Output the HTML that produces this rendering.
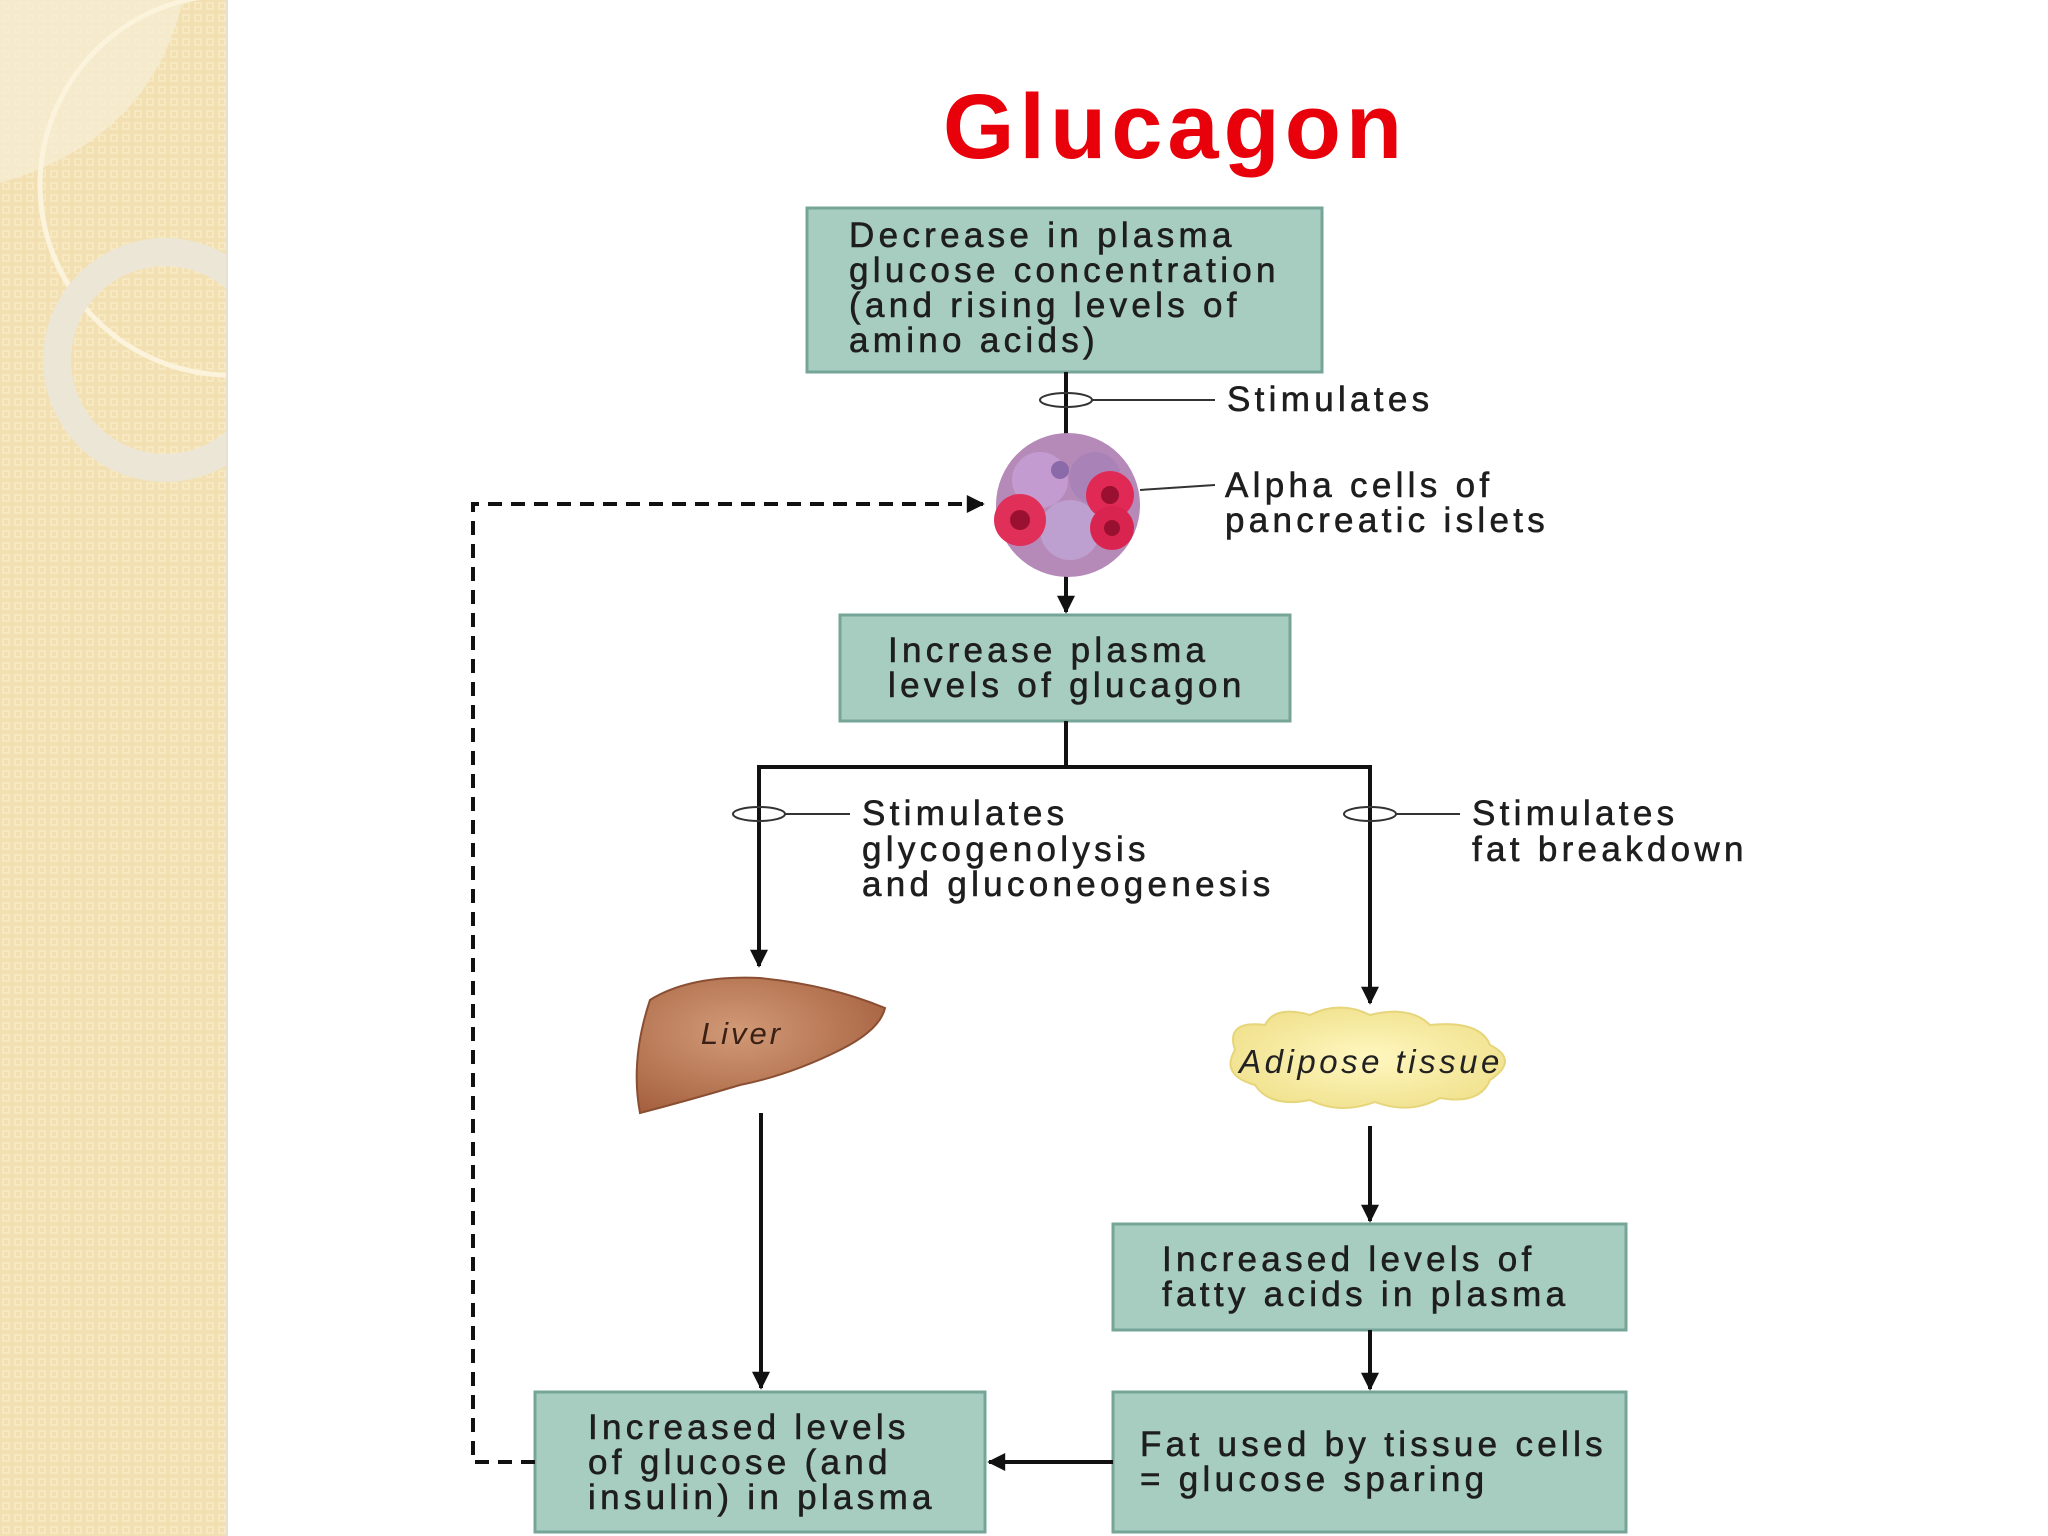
<!DOCTYPE html>
<html><head><meta charset="utf-8"><style>
html,body{margin:0;padding:0;background:#fff;}
svg{display:block;}
text{font-family:"Liberation Sans",sans-serif;}
</style></head><body>
<svg width="2048" height="1536" viewBox="0 0 2048 1536" xmlns="http://www.w3.org/2000/svg">
<defs>
<pattern id="pt" width="12" height="12" patternUnits="userSpaceOnUse">
<rect width="12" height="12" fill="#f3e0b2"/>
<rect x="3" y="3" width="6" height="6" fill="none" stroke="#f8ecc8" stroke-width="1.5"/>
</pattern>
<clipPath id="cp"><rect x="0" y="0" width="227" height="1536"/></clipPath>
<marker id="ah2" viewBox="0 0 10 10" refX="9" refY="5" markerWidth="22" markerHeight="18" orient="auto" markerUnits="userSpaceOnUse">
<path d="M0,0 L10,5 L0,10 z" fill="#111"/>
</marker>
<radialGradient id="lv" cx="0.4" cy="0.4" r="0.7"><stop offset="0" stop-color="#d29a78"/><stop offset="1" stop-color="#a5603e"/></radialGradient>
<radialGradient id="ad" cx="0.5" cy="0.5" r="0.6"><stop offset="0" stop-color="#fff7c0"/><stop offset="1" stop-color="#efe08a"/></radialGradient>
</defs>
<!-- left panel -->
<rect x="0" y="0" width="227" height="1536" fill="url(#pt)"/>
<g clip-path="url(#cp)">
<path d="M0,0 H183 Q150,140 0,183 Z" fill="#f6ecd2" opacity="0.8"/>
<circle cx="230" cy="185" r="190" fill="none" stroke="#fbf3dc" stroke-width="5"/>
<circle cx="165" cy="360" r="108" fill="none" stroke="#ece6d6" stroke-width="28"/>
</g>
<line x1="227" y1="0" x2="227" y2="1536" stroke="#e6e0d0" stroke-width="2"/>

<text x="1175" y="158" text-anchor="middle" font-size="92" font-weight="bold" fill="#e8000b" letter-spacing="5">Glucagon</text>

<g fill="#a7cdc1" stroke="#74a597" stroke-width="3">
<rect x="807" y="208" width="515" height="164"/>
<rect x="840" y="615" width="450" height="106"/>
<rect x="1113" y="1224" width="513" height="106"/>
<rect x="1113" y="1392" width="513" height="140"/>
<rect x="535" y="1392" width="450" height="140"/>
</g>

<g font-size="35" fill="#1e1e1e" letter-spacing="4.3" stroke="#1e1e1e" stroke-width="0.6">
<text x="849" y="247">Decrease in plasma</text>
<text x="849" y="282">glucose concentration</text>
<text x="849" y="317">(and rising levels of</text>
<text x="849" y="352">amino acids)</text>
<text x="1227" y="411">Stimulates</text>
<text x="1225" y="497">Alpha cells of</text>
<text x="1225" y="532">pancreatic islets</text>
<text x="888" y="662">Increase plasma</text>
<text x="888" y="697">levels of glucagon</text>
<text x="862" y="825">Stimulates</text>
<text x="862" y="861">glycogenolysis</text>
<text x="862" y="896">and gluconeogenesis</text>
<text x="1472" y="825">Stimulates</text>
<text x="1472" y="861">fat breakdown</text>
<text x="1162" y="1271">Increased levels of</text>
<text x="1162" y="1306">fatty acids in plasma</text>
<text x="1140" y="1456">Fat used by tissue cells</text>
<text x="1140" y="1491">= glucose sparing</text>
<text x="588" y="1439">Increased levels</text>
<text x="588" y="1474">of glucose (and</text>
<text x="588" y="1509">insulin) in plasma</text>
</g>

<g stroke="#111" stroke-width="4" fill="none">
<line x1="1066" y1="372" x2="1066" y2="455" marker-end="url(#ah2)"/>
<line x1="1066" y1="555" x2="1066" y2="612" marker-end="url(#ah2)"/>
<polyline points="1066,721 1066,767 759,767 759,966" marker-end="url(#ah2)"/>
<polyline points="1066,767 1370,767 1370,1003" marker-end="url(#ah2)"/>
<line x1="761" y1="1113" x2="761" y2="1388" marker-end="url(#ah2)"/>
<line x1="1370" y1="1126" x2="1370" y2="1221" marker-end="url(#ah2)"/>
<line x1="1370" y1="1330" x2="1370" y2="1389" marker-end="url(#ah2)"/>
<line x1="1113" y1="1462" x2="989" y2="1462" marker-end="url(#ah2)"/>
<polyline points="535,1462 473,1462 473,504 983,504" stroke-dasharray="14,9" marker-end="url(#ah2)"/>
</g>
<g stroke="#333" stroke-width="2" fill="none">
<ellipse cx="1066" cy="400" rx="26" ry="7"/><line x1="1092" y1="400" x2="1215" y2="400"/>
<ellipse cx="759" cy="814" rx="26" ry="7"/><line x1="785" y1="814" x2="850" y2="814"/>
<ellipse cx="1370" cy="814" rx="26" ry="7"/><line x1="1396" y1="814" x2="1460" y2="814"/>
<line x1="1140" y1="490" x2="1215" y2="485"/>
</g>

<!-- islet cluster -->
<g>
<circle cx="1068" cy="505" r="72" fill="#b68ab8"/>
<circle cx="1040" cy="480" r="28" fill="#c39bd0"/>
<circle cx="1095" cy="478" r="26" fill="#a983b8"/>
<circle cx="1070" cy="530" r="30" fill="#bda0cf"/>
<circle cx="1020" cy="520" r="26" fill="#e0305a"/>
<circle cx="1110" cy="495" r="24" fill="#e02a55"/>
<circle cx="1112" cy="528" r="22" fill="#d8244e"/>
<circle cx="1020" cy="520" r="10" fill="#9a1030"/>
<circle cx="1110" cy="495" r="9" fill="#9a1030"/>
<circle cx="1112" cy="528" r="8" fill="#9a1030"/>
<circle cx="1060" cy="470" r="9" fill="#8a6aa8"/>
</g>

<!-- liver -->
<path d="M650,1000 Q690,975 760,978 Q830,985 885,1008 Q880,1030 840,1050 Q790,1075 740,1085 Q690,1100 640,1113 Q630,1060 650,1000 Z" fill="url(#lv)" stroke="#8a4e32" stroke-width="2"/>
<text x="742" y="1044" font-size="31" font-style="italic" text-anchor="middle" fill="#3a2015" letter-spacing="3">Liver</text>

<!-- adipose -->
<path d="M1235,1050 Q1225,1020 1265,1025 Q1275,1005 1310,1015 Q1340,1000 1370,1015 Q1410,1005 1430,1025 Q1480,1020 1490,1045 Q1520,1060 1490,1080 Q1480,1105 1440,1098 Q1410,1115 1375,1102 Q1340,1115 1310,1100 Q1270,1108 1255,1085 Q1220,1075 1235,1050 Z" fill="url(#ad)" stroke="#e6d57a" stroke-width="2"/>
<text x="1371" y="1073" font-size="33" font-style="italic" text-anchor="middle" fill="#222" letter-spacing="3.5">Adipose tissue</text>
</svg>
</body></html>
